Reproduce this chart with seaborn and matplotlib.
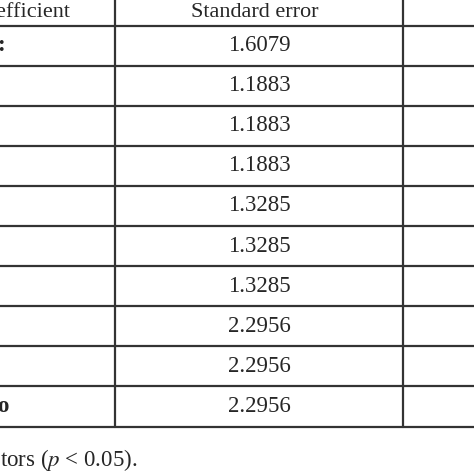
import matplotlib.pyplot as plt
import seaborn as sns

# table contents (visible part of the cropped figure)
header = ["Coefficient", "Standard error"]
std_error = ["1.6079", "1.1883", "1.1883", "1.1883", "1.3285",
             "1.3285", "1.3285", "2.2956", "2.2956", "2.2956"]
left_marks = [":", "", "", "", "", "", "", "", "", "o"]
footnote = "tors ($\\it{p}$ < 0.05)."

sns.set_theme(style="white")
plt.rcParams["font.family"] = ["Liberation Serif", "DejaVu Serif"]
plt.rcParams["mathtext.fontset"] = "stix"

fig = plt.figure(figsize=(4.74, 4.74), dpi=100)
ax = fig.add_axes([0, 0, 1, 1])
ax.set_xlim(0, 474)
ax.set_ylim(474, 0)
ax.axis("off")

line_kw = dict(color="#333333", lw=1.6)
row_top = 25.5
row_h = 40.1
n = len(std_error)
for i in range(n + 1):
    ax.axhline(row_top + i * row_h, **line_kw)
bottom = row_top + n * row_h
for x in (115, 403):
    ax.plot([x, x], [0, bottom], **line_kw)

fs = 16.5
ax.text(70, 12, header[0], ha="right", va="center", fontsize=16)
ax.text(255, 12, header[1], ha="center", va="center", fontsize=16)
for i, (se, m) in enumerate(zip(std_error, left_marks)):
    y = row_top + (i + 0.5) * row_h
    ax.text(259, y, se, ha="center", va="center", fontsize=fs)
    if m:
        ax.text(-3, y, m, ha="left", va="center", fontsize=fs, fontweight="bold")

ax.text(0, 460, footnote, ha="left", va="center", fontsize=fs)

fig.savefig("out.png", dpi=100)
